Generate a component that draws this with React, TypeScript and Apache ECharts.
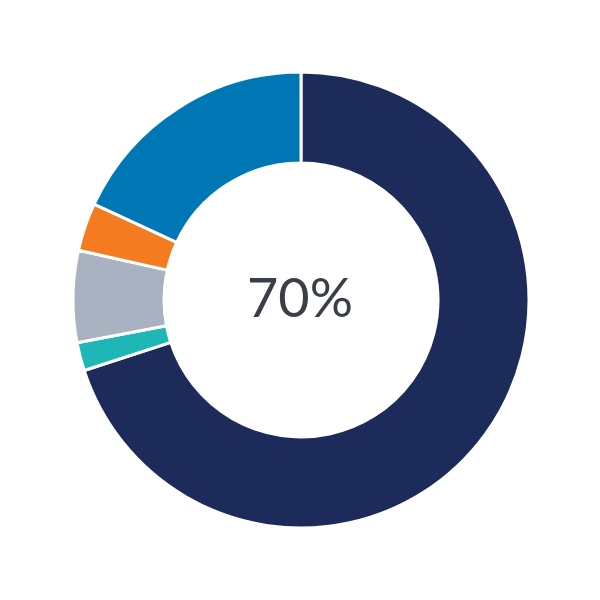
import React, { useEffect, useRef } from "react";
import * as echarts from "echarts";

const categories = ["Navy", "Teal", "Gray", "Orange", "Blue"];
const values = [70, 2, 6.5, 3.4, 18.1];
const colors = ["#1c2b5a", "#1fb7b5", "#a8b2c0", "#f47b20", "#0077b5"];
const centerLabel = "70%";

export default function App() {
  const ref = useRef<HTMLDivElement>(null);
  useEffect(() => {
    if (!ref.current) return;
    const chart = echarts.init(ref.current, undefined, { renderer: "svg" });
    chart.setOption({
      animation: false,
      graphic: [
        {
          type: "text",
          x: 300,
          y: 296,
          style: {
            text: centerLabel,
            align: "center",
            verticalAlign: "middle",
            fontFamily: "Lato",
            fontWeight: 400,
            fontSize: 54,
            fill: "#3a3f47",
          },
        },
      ],
      series: [
        {
          type: "pie",
          center: [301, 300],
          radius: [137, 228],
          startAngle: 90,
          clockwise: true,
          label: { show: false },
          labelLine: { show: false },
          itemStyle: { borderColor: "#ffffff", borderWidth: 3 },
          data: categories.map((c, i) => ({
            name: c,
            value: values[i],
            itemStyle: { color: colors[i] },
          })),
        },
      ],
    });
    return () => chart.dispose();
  }, []);
  return (
    <div
      ref={ref}
      style={{ position: "absolute", left: 0, top: 0, width: 600, height: 600 }}
    />
  );
}
